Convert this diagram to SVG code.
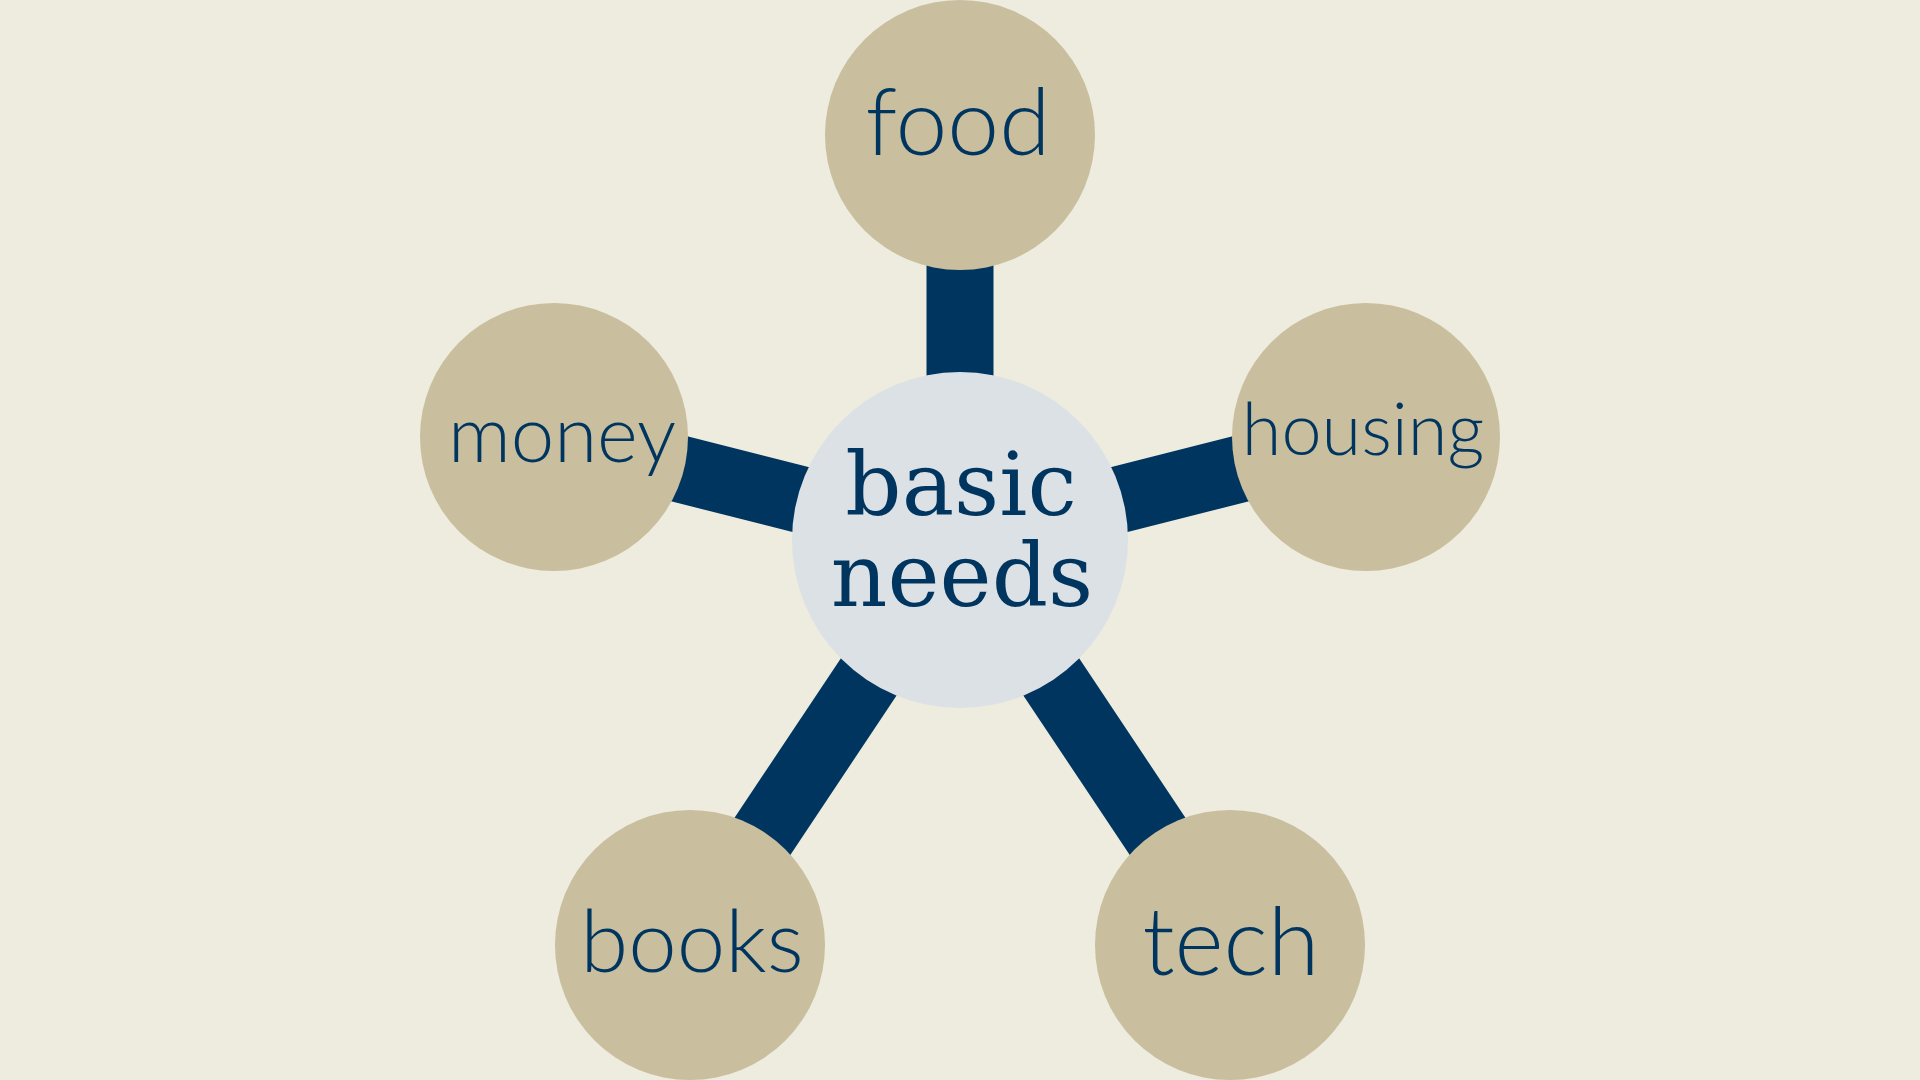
<svg xmlns="http://www.w3.org/2000/svg" width="1920" height="1080" viewBox="0 0 1920 1080">
<style>
.bg{fill:#EEEBDF}
.sat{fill:#C9BF9E}
.hub{fill:#DCE1E5}
.edge{stroke:#00355F;stroke-width:67;fill:none}
.lbl{font-family:Lato,"Open Sans","DejaVu Sans",sans-serif;font-weight:300;fill:#00355F;text-anchor:middle}
.hubl{font-family:"DejaVu Serif","Liberation Serif",serif;fill:#00355F;text-anchor:middle;font-size:88px}
</style>
<rect class="bg" x="0" y="0" width="1920" height="1080"/>
<g id="connectors">
<line class="edge" x1="960" y1="540" x2="960" y2="135"/>
<line class="edge" x1="960" y1="540" x2="554" y2="437"/>
<line class="edge" x1="960" y1="540" x2="1366" y2="437"/>
<line class="edge" x1="960" y1="540" x2="690" y2="945"/>
<line class="edge" x1="960" y1="540" x2="1230" y2="945"/>
</g>
<g id="food"><circle class="sat" cx="960" cy="135" r="135"/><text class="lbl" x="958" y="155" font-size="93">food</text></g>
<g id="money"><circle class="sat" cx="554" cy="437" r="134"/><text class="lbl" x="562" y="462" font-size="78">money</text></g>
<g id="housing"><circle class="sat" cx="1366" cy="437" r="134"/><text class="lbl" x="1363" y="455" font-size="72">housing</text></g>
<g id="books"><circle class="sat" cx="690" cy="945" r="135"/><text class="lbl" x="692" y="972" font-size="87">books</text></g>
<g id="tech"><circle class="sat" cx="1230" cy="945" r="135"/><text class="lbl" x="1231" y="975" font-size="94">tech</text></g>
<g id="basic-needs"><circle class="hub" cx="960" cy="540" r="168"/><text class="hubl" x="961" y="515">basic</text><text class="hubl" x="962" y="606">needs</text></g>
</svg>
